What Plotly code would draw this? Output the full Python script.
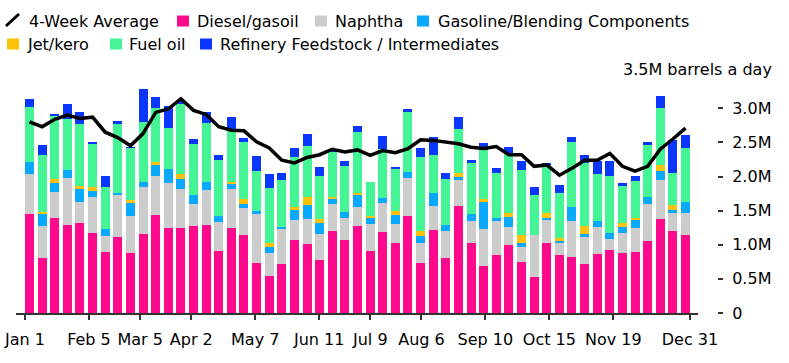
import plotly.graph_objects as go
import pandas as pd

W, H = 789, 363

weeks = pd.date_range("2018-01-01", periods=53, freq="7D")

diesel = [1.45,0.81,1.39,1.29,1.31,1.17,0.89,1.11,0.88,1.15,
          1.44,1.24,1.24,1.27,1.29,0.90,1.25,1.14,0.73,0.54,
          0.72,1.07,1.01,0.78,1.20,1.06,1.27,0.91,1.19,1.03,
          1.42,0.73,1.21,0.81,1.56,1.03,0.69,0.84,0.99,0.75,
          0.52,1.02,0.84,0.82,0.72,0.86,0.92,0.87,0.89,1.05,
          1.38,1.20,1.14]
naphtha = [0.58,0.46,0.38,0.68,0.31,0.53,0.24,0.62,0.54,0.70,
           0.57,0.66,0.57,0.33,0.51,0.43,0.57,0.39,0.72,0.34,
           0.52,0.29,0.37,0.38,0.40,0.33,0.28,0.39,0.42,0.27,
           0.55,0.29,0.36,0.39,0.38,0.32,0.54,0.51,0.27,0.22,
           0.62,0.35,0.18,0.53,0.39,0.40,0.16,0.30,0.35,0.54,
           0.57,0.27,0.33]
gasoline = [0.18,0.19,0.13,0.13,0.19,0.09,0.10,0.02,0.19,0.07,
            0.15,0.21,0.15,0.13,0.11,0.09,0.07,0.06,0.04,0.08,
            0.02,0.14,0.20,0.15,0.07,0.09,0.18,0.10,0.07,0.13,
            0.09,0.11,0.19,0.08,0.05,0.10,0.40,0.04,0.14,0.05,
            0.00,0.02,0.03,0.20,0.05,0.08,0.09,0.09,0.13,0.11,
            0.13,0.04,0.16]
jet = [0.00,0.02,0.06,0.00,0.05,0.05,0.00,0.00,0.05,0.00,
       0.05,0.00,0.07,0.00,0.00,0.00,0.02,0.08,0.00,0.06,
       0.00,0.05,0.11,0.06,0.02,0.00,0.03,0.02,0.00,0.06,
       0.00,0.07,0.00,0.00,0.06,0.00,0.04,0.00,0.06,0.12,
       0.00,0.08,0.04,0.00,0.11,0.00,0.00,0.05,0.02,0.00,
       0.08,0.07,0.00]
fuel_oil = [0.81,0.83,0.93,0.74,0.90,0.63,0.61,1.01,0.76,0.88,
            0.79,0.60,1.03,0.75,0.87,0.82,0.76,0.84,0.59,0.81,
            0.69,0.73,0.76,0.63,0.67,0.67,0.89,0.49,0.72,0.63,
            0.89,1.08,0.56,0.68,0.65,0.75,0.71,0.66,0.88,0.95,
            0.59,0.69,0.67,0.95,0.92,0.69,0.84,0.55,0.54,0.76,
            0.84,0.47,0.78]
refinery = [0.12,0.15,0.03,0.22,0.18,0.03,0.17,0.05,0.01,0.48,
            0.16,0.32,0.06,0.07,0.17,0.08,0.20,0.05,0.22,0.20,
            0.10,0.14,0.17,0.14,0.02,0.07,0.09,0.00,0.19,0.02,
            0.04,0.13,0.25,0.09,0.17,0.04,0.11,0.07,0.09,0.13,
            0.12,0.04,0.11,0.08,0.12,0.19,0.21,0.04,0.07,0.05,
            0.18,0.48,0.20]
avg4 = [2.80,2.73,2.84,2.90,2.85,2.87,2.65,2.57,2.45,2.63,
        2.94,2.99,3.14,2.97,2.91,2.73,2.68,2.67,2.51,2.42,
        2.24,2.20,2.28,2.32,2.40,2.36,2.39,2.31,2.38,2.35,
        2.41,2.54,2.53,2.51,2.48,2.43,2.41,2.44,2.32,2.32,
        2.15,2.17,2.02,2.12,2.24,2.24,2.34,2.15,2.08,2.15,
        2.40,2.55,2.71]

tick_dates = ["2018-01-01","2018-02-05","2018-03-05","2018-04-02","2018-05-07",
              "2018-06-11","2018-07-09","2018-08-06","2018-09-10","2018-10-15",
              "2018-11-19","2018-12-31"]
tick_labels = ["Jan 1","Feb 5","Mar 5","Apr 2","May 7","Jun 11","Jul 9",
               "Aug 6","Sep 10","Oct 15","Nov 19","Dec 31"]
y_ticks = [0, 0.5, 1.0, 1.5, 2.0, 2.5, 3.0]
y_labels = ["0", "0.5M", "1.0M", "1.5M", "2.0M", "2.5M", "3.0M"]

series = [
    ("Diesel/gasoil", diesel, "#ff0a8c"),
    ("Naphtha", naphtha, "#cccccc"),
    ("Gasoline/Blending Components", gasoline, "#09a9ff"),
    ("Jet/kero", jet, "#ffc20a"),
    ("Fuel oil", fuel_oil, "#45f595"),
    ("Refinery Feedstock / Intermediates", refinery, "#0a37ff"),
]

FONT = "DejaVu Sans"
n = len(weeks)
x = list(range(n))
bar_w = 0.713
half = bar_w / 2
span_days = (weeks[-1] - weeks[0]).days
ext = (n - 1) + bar_w
tickvals = [-half + (pd.Timestamp(d) - weeks[0]).days / span_days * ext for d in tick_dates]

# plot area pixels
px_left, px_right, px_bars_l, px_bars_r = 16, 698, 25, 690
unit = (px_bars_r - px_bars_l) / ext
x_range = [-half - (px_bars_l - px_left) / unit, (n - 1) + half + (px_right - px_bars_r) / unit]

fig = go.Figure()
for name, vals, col in series:
    fig.add_trace(go.Bar(x=x, y=vals, name=name, width=bar_w,
                         marker=dict(color=col, line=dict(width=0))))
fig.add_trace(go.Scatter(x=x, y=avg4, mode="lines", name="4-Week Average",
                         line=dict(color="#000000", width=3.5)))

def px(xp):
    return xp / W

def py(yp):
    return 1 - yp / H

shapes = []
annotations = []
# legend
shapes.append(dict(type="line", xref="paper", yref="paper",
                   x0=px(6), y0=py(26), x1=px(19), y1=py(14),
                   line=dict(color="#000", width=3)))
annotations.append(dict(text="4-Week Average", x=px(27), y=py(21)))
leg = [
    (177, 21, "#ff0a8c", 195, "Diesel/gasoil"),
    (315, 21, "#cccccc", 333, "Naphtha"),
    (417, 21, "#09a9ff", 436, "Gasoline/Blending Components"),
    (7, 44, "#ffc20a", 25, "Jet/kero"),
    (110, 44, "#45f595", 127, "Fuel oil"),
    (200, 44, "#0a37ff", 218, "Refinery Feedstock / Intermediates"),
]
for sx, cy, col, tx, txt in leg:
    shapes.append(dict(type="rect", xref="paper", yref="paper",
                       x0=px(sx), x1=px(sx + 12), y0=py(cy - 5.5), y1=py(cy + 5.5),
                       fillcolor=col, line=dict(width=0)))
    annotations.append(dict(text=txt, x=px(tx), y=py(cy)))
for a in annotations:
    a.update(xref="paper", yref="paper", xanchor="left", yanchor="middle",
             showarrow=False, font=dict(family=FONT, size=16, color="#000"))
annotations.append(dict(text="3.5M barrels a day", xref="paper", yref="paper",
                        x=px(774), y=py(69.5), xanchor="right", yanchor="middle",
                        showarrow=False, font=dict(family=FONT, size=16, color="#000")))

fig.update_layout(
    width=W, height=H, barmode="stack", showlegend=False,
    template="none",
    margin=dict(l=0, r=0, t=0, b=0, pad=0),
    paper_bgcolor="white", plot_bgcolor="white",
    font=dict(family=FONT, size=16, color="#000"),
    bargap=0, hovermode=False,
    xaxis=dict(domain=[px(px_left), px(px_right)], range=x_range,
               tickmode="array", tickvals=tickvals, ticktext=tick_labels,
               showline=True, linecolor="#333", linewidth=1.5,
               ticks="outside", ticklen=5, tickwidth=1.5, tickcolor="#333",
               showgrid=False, zeroline=False, ticklabelstandoff=6,
               tickfont=dict(family=FONT, size=16, color="#000")),
    yaxis=dict(domain=[py(313), py(74.2)], range=[0, 3.5],
               side="right", anchor="free", position=px(717),
               tickmode="array", tickvals=y_ticks, ticktext=y_labels,
               showline=False, ticks="outside", ticklen=5, tickwidth=1.5,
               tickcolor="#333", showgrid=False, zeroline=False,
               ticklabelstandoff=6,
               tickfont=dict(family=FONT, size=16, color="#000")),
    shapes=shapes, annotations=annotations,
)

fig.write_html("out.html", config={"displayModeBar": False},
               post_script="document.body.style.margin='0';document.body.style.overflow='hidden';")
